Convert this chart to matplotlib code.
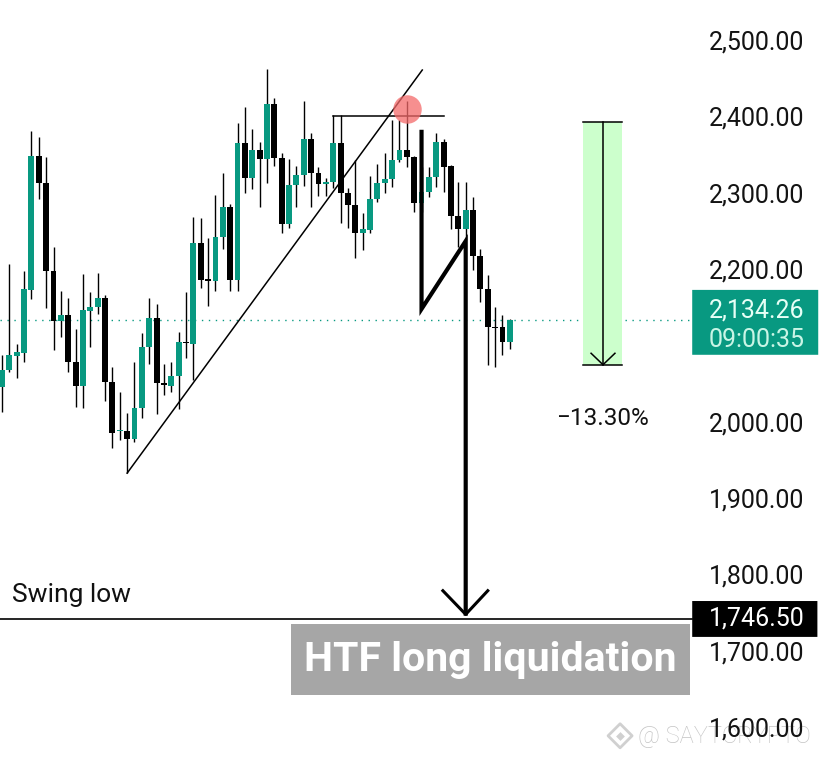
import matplotlib
matplotlib.use('Agg')
import matplotlib.pyplot as plt
from matplotlib.patches import FancyBboxPatch, Rectangle
import numpy as np

plt.rcParams['font.family'] = ['Roboto', 'DejaVu Sans']

# OHLC (70 candles)
opens = [2047, 2069, 2087, 2091, 2174, 2349, 2314, 2199, 2133, 2141,
         2080, 2048, 2146, 2152, 2163, 2053, 1989, 1989, 1979, 2019,
         2099, 2137, 2052, 2048, 2061, 2106, 2103, 2235, 2188, 2186,
         2243, 2283, 2187, 2366, 2321, 2357, 2345, 2418, 2347, 2260,
         2311, 2325, 2372, 2327, 2313, 2315, 2366, 2301, 2285, 2249,
         2252, 2293, 2314, 2319, 2344, 2357, 2348, 2288, 2302, 2322,
         2368, 2336, 2271, 2254, 2279, 2218, 2175, 2126, 2125, 2106]
closes = [2069, 2089, 2093, 2175, 2349, 2314, 2199, 2133, 2141, 2080,
          2048, 2148, 2152, 2163, 2053, 1987, 1991, 1979, 2019, 2099,
          2137, 2052, 2049, 2061, 2106, 2104, 2235, 2187, 2186, 2243,
          2283, 2187, 2366, 2321, 2357, 2345, 2418, 2347, 2260, 2311,
          2325, 2372, 2327, 2313, 2315, 2366, 2301, 2285, 2249, 2254,
          2293, 2314, 2319, 2344, 2357, 2348, 2288, 2302, 2322, 2368,
          2335, 2271, 2254, 2279, 2218, 2175, 2125, 2124, 2106, 2134.26]
highs = [2089, 2208, 2103, 2199, 2382, 2374, 2348, 2230, 2173, 2163,
         2123, 2195, 2171, 2196, 2167, 2073, 2040, 2013, 2080, 2118,
         2163, 2156, 2077, 2080, 2119, 2171, 2270, 2268, 2242, 2298,
         2327, 2287, 2393, 2414, 2385, 2368, 2463, 2425, 2353, 2345,
         2336, 2421, 2380, 2335, 2321, 2403, 2403, 2308, 2344, 2275,
         2323, 2339, 2353, 2397, 2397, 2421, 2349, 2335, 2335, 2380,
         2372, 2338, 2315, 2315, 2296, 2228, 2194, 2152, 2141, 2136]
lows = [2014, 2066, 2059, 2080, 2162, 2293, 2150, 2095, 2112, 2066,
        2021, 2019, 2099, 2142, 2028, 1967, 1977, 1934, 1975, 2006,
        2077, 2012, 2036, 2040, 2018, 2085, 2056, 2177, 2153, 2173,
        2228, 2173, 2173, 2301, 2306, 2283, 2314, 2336, 2249, 2255,
        2283, 2310, 2283, 2297, 2297, 2308, 2262, 2255, 2216, 2226,
        2249, 2289, 2301, 2309, 2342, 2335, 2276, 2276, 2296, 2309,
        2302, 2254, 2230, 2240, 2200, 2158, 2076, 2073, 2089, 2097]

axis_prices = [2500, 2400, 2300, 2200, 2000, 1900, 1800, 1700, 1600]
last_price = 2134.26
countdown = '09:00:35'
swing_low = 1746.50
measure_top, measure_bottom = 2394, 2076
measure_label = '\u221213.30%'

# drawings (candle index, price)
trend_x, trend_y = [17, 57.1], [1934, 2462]
top_x, top_y = [45, 60], [2402, 2402]
zig_x, zig_y = [57, 57, 63, 63], [2381, 2149, 2238, 1750]
circle_x, circle_y = 55, 2411

GREEN = '#089981'

fig = plt.figure(figsize=(8.29, 7.58), dpi=100)
ax = fig.add_axes([0, 0, 1, 1])
ax.set_xlim(-0.272, 112.36)
ax.set_ylim(1560.9, 2553.7)
ax.axis('off')

o = np.array(opens); c = np.array(closes)
h = np.array(highs); l = np.array(lows)
idx = np.arange(len(o))
up = c >= o
colors = np.where(up, GREEN, '#000000')

ax.vlines(idx, l, h, color='black', lw=1.0, zorder=2)
body_lo = np.minimum(o, c)
body_h = np.maximum(np.abs(c - o), 2.0)
ax.bar(idx, body_h, bottom=body_lo, width=0.8, color=colors, lw=0, zorder=3)

yt = ax.get_yaxis_transform()

# current price dotted line + swing low line
ax.plot([0, 0.835], [last_price, last_price], transform=yt, color=GREEN,
        lw=1.0, ls=(0, (1, 4)), zorder=1)
ax.plot([0, 0.835], [swing_low - 3, swing_low - 3], transform=yt, color='black',
        lw=1.2, zorder=4)

# trendline / top line / zigzag
ax.plot(trend_x, trend_y, color='black', lw=1.1, zorder=4)
ax.plot(top_x, top_y, color='black', lw=1.1, zorder=4)
ax.plot(zig_x, zig_y, color='black', lw=3.0, zorder=5, solid_joinstyle='miter')
ax.plot([59.9, 63, 66.0], [1780, 1749, 1780], color='black', lw=2.2, zorder=5)
ax.scatter([circle_x], [circle_y], s=420, color='#f46a6a', alpha=0.75,
           lw=0, zorder=6)

# measure tool
ax.add_patch(Rectangle((0.7033, measure_bottom), 0.047,
                       measure_top - measure_bottom, transform=yt,
                       color='#ccffcc', lw=0, zorder=1))
ax.plot([0.7033, 0.7503], [measure_top] * 2, transform=yt, color='black', lw=1.1)
ax.plot([0.7033, 0.7503], [measure_bottom] * 2, transform=yt, color='black', lw=1.1)
ax.plot([0.7274, 0.7274], [measure_top, measure_bottom], transform=yt,
        color='black', lw=1.1)
ax.plot([0.7130, 0.7274, 0.7418], [measure_bottom + 15, measure_bottom,
        measure_bottom + 15], transform=yt, color='black', lw=1.1)
ax.text(0.727, 2005, measure_label, transform=yt, ha='center', va='center',
        fontsize=17.5, color='#111111')

# watermark (under the price labels)
ax.scatter([0.748], [1590], transform=yt, marker='D', s=150,
           facecolor='none', edgecolor='#d0d0d0', lw=2.0, zorder=8)
ax.scatter([0.748], [1590], transform=yt, marker='D', s=20,
           facecolor='#d0d0d0', lw=0, zorder=8)
ax.text(0.769, 1589, '@ SAYTCRYPTO', transform=yt, ha='left', va='center',
        fontsize=17, fontweight='light', color='#c4c4c4', zorder=8)

# price axis labels
for p in axis_prices:
    ax.text(0.913, p - 2, f'{p:,.2f}', transform=yt, ha='center', va='center',
            fontsize=18, color='#131313', zorder=9)

# last price box
ax.add_patch(FancyBboxPatch((0.835, 2089), 0.152, 85, transform=yt,
                            boxstyle='round,pad=0,rounding_size=0.004',
                            color=GREEN, lw=0, zorder=10))
ax.text(0.913, 2147, f'{last_price:,.2f}', transform=yt, ha='center',
        va='center', fontsize=18, color='#e6fff6', zorder=11)
ax.text(0.913, 2109, countdown, transform=yt, ha='center', va='center',
        fontsize=18, color='#c9f5e6', zorder=11)

# swing low price box
ax.add_patch(FancyBboxPatch((0.835, swing_low - 27), 0.151, 47, transform=yt,
                            boxstyle='round,pad=0,rounding_size=0.004',
                            color='black', lw=0, zorder=10))
ax.text(0.913, swing_low - 3, f'{swing_low:,.2f}', transform=yt, ha='center',
        va='center', fontsize=18, color='white', zorder=11)

ax.text(0.0145, 1775, 'Swing low', transform=yt, ha='left', va='center',
        fontsize=19, color='#111111')

# HTF label box
ax.add_patch(Rectangle((0.351, 1644), 0.481, 93, transform=yt,
                       color='#a6a6a6', lw=0, zorder=6))
ax.text(0.5915, 1689, 'HTF long liquidation', transform=yt, ha='center',
        va='center', fontsize=29.5, fontweight='bold', color='white', zorder=7)

fig.savefig('out.png', dpi=100)
